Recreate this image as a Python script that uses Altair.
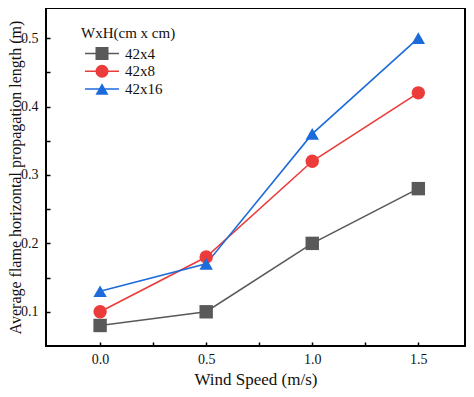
import altair as alt
import pandas as pd

wind_speed = [0.0, 0.5, 1.0, 1.5]
series_names = ["42x4", "42x8", "42x16"]
len_42x4 = [0.08, 0.10, 0.20, 0.28]
len_42x8 = [0.10, 0.18, 0.32, 0.42]
len_42x16 = [0.13, 0.17, 0.36, 0.50]
x_tick_values = [0.0, 0.25, 0.5, 0.75, 1.0, 1.25, 1.5]
y_tick_values = [0.1, 0.15, 0.2, 0.25, 0.3, 0.35, 0.4, 0.45, 0.5]
legend_title = ["WxH(cm x cm)"]

colors = ["#595959", "#ec3b3b", "#1c6bdb"]
shapes = ["square", "circle", "triangle-up"]

rows = []
for name, vals in zip(series_names, [len_42x4, len_42x8, len_42x16]):
    for ws, v in zip(wind_speed, vals):
        rows.append({"ws": ws, "len": v, "series": name})
df = pd.DataFrame(rows)
leg_df = pd.DataFrame({"series": series_names})
title_df = pd.DataFrame({"t": legend_title})

FONT = "Liberation Serif"

x_major = "abs(datum.value*2 - round(datum.value*2)) < 1e-6"
y_major = "abs(datum.value*10 - round(datum.value*10)) < 1e-6"
TICK = 4

x_enc = alt.X(
    "ws:Q",
    scale=alt.Scale(domain=[-0.255, 1.72], nice=False, zero=False),
    axis=alt.Axis(
        title="Wind Speed (m/s)",
        values=x_tick_values,
        labelExpr=f"{x_major} ? format(datum.value, '.1f') : ''",
        tickSize=TICK,
        offset=-TICK,
        labelPadding=6,
        titlePadding=5,
        labelFont=FONT,
        titleFont=FONT,
    ),
)
y_enc = alt.Y(
    "len:Q",
    scale=alt.Scale(domain=[0.05, 0.544], nice=False, zero=False),
    axis=alt.Axis(
        title="Average flame horizontal propagation length (m)",
        values=y_tick_values,
        labelExpr=f"{y_major} ? format(datum.value, '.1f') : ''",
        tickSize=TICK,
        offset=-TICK,
        labelPadding=8,
        titlePadding=-3,
        titleFontSize=16,
        labelFont=FONT,
        titleFont=FONT,
    ),
)

color_scale = alt.Scale(domain=series_names, range=colors)
shape_scale = alt.Scale(domain=series_names, range=shapes)
color_enc = alt.Color("series:N", scale=color_scale, legend=None)
shape_enc = alt.Shape("series:N", scale=shape_scale, legend=None)

lines = alt.Chart(df).mark_line(strokeWidth=1.6).encode(
    x=x_enc, y=y_enc, color=color_enc, detail="series:N"
)
points = alt.Chart(df).mark_point(filled=True, opacity=1, size=180).encode(
    x=x_enc, y=y_enc, color=color_enc, shape=shape_enc
)
main = alt.layer(lines, points)

leg_y = alt.Y(
    "series:N",
    scale=alt.Scale(type="point", domain=series_names, range=[45.5, 81], padding=0),
    axis=None,
)
leg_rules = alt.Chart(leg_df).mark_rule(strokeWidth=1.6).encode(
    x=alt.value(39), x2=alt.value(73), y=leg_y, color=color_enc
)
leg_points = alt.Chart(leg_df).mark_point(filled=True, opacity=1, size=170).encode(
    x=alt.value(56), y=leg_y, color=color_enc, shape=shape_enc
)
leg_labels = alt.Chart(leg_df).mark_text(
    align="left", baseline="middle", font=FONT, fontSize=15, color="#111"
).encode(x=alt.value(79), y=leg_y, text="series:N")
leg_title = alt.Chart(title_df).mark_text(
    align="left", baseline="top", font=FONT, fontSize=15, color="#111"
).encode(x=alt.value(35), y=alt.value(18), text="t:N")

legend = alt.layer(leg_rules, leg_points, leg_labels, leg_title)

chart = (
    alt.layer(main, legend)
    .resolve_scale(y="independent")
    .properties(
        width=419,
        height=338,
        autosize=alt.AutoSizeParams(type="none"),
        padding={"left": 38, "top": 0, "right": 1, "bottom": 43},
    )
    .configure(font=FONT)
    .configure_view(stroke="black", strokeWidth=2)
    .configure_axis(
        grid=False,
        domain=False,
        labelFont=FONT,
        titleFont=FONT,
        labelFontSize=14,
        titleFontSize=17,
        titleFontWeight="normal",
        labelColor="#111",
        titleColor="#111",
        tickColor="black",
        tickWidth=1.5,
    )
)

chart.save("out.html", embed_options={"renderer": "svg", "actions": False})
